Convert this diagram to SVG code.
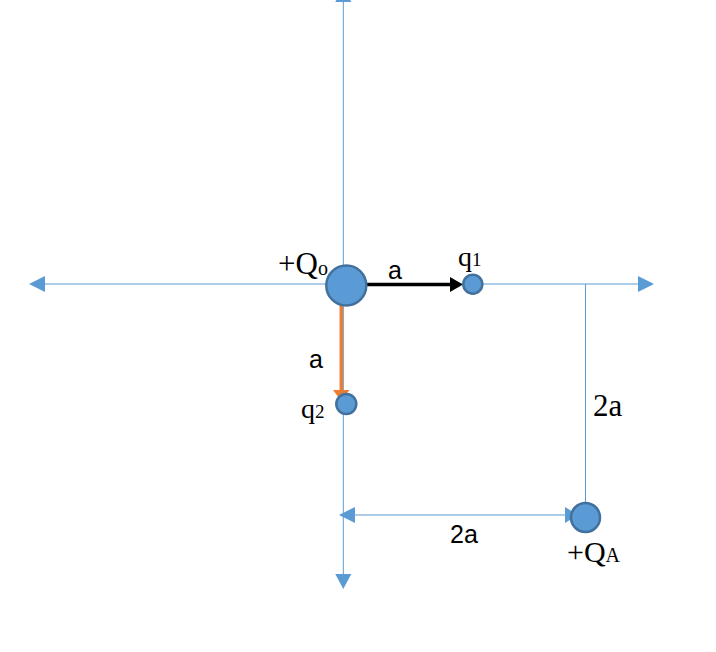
<svg xmlns="http://www.w3.org/2000/svg" width="716" height="652" viewBox="0 0 716 652">
<style>
.ax{stroke:#5b9bd5;stroke-width:1;fill:none}
.ah{fill:#5b9bd5;stroke:none}
.chg{fill:#5b9bd5;stroke:#41719c;stroke-width:2.5}
.serif{font-family:"Liberation Serif","Times New Roman",serif;fill:#000}
.sans{font-family:"Liberation Sans",Arial,sans-serif;fill:#000}
</style>
<rect width="716" height="652" fill="#fff"/>
<g id="connectors">
<line class="ax" x1="45" y1="284" x2="638" y2="284"/>
<polygon class="ah" points="29,284 45,276 45,292"/>
<polygon class="ah" points="654,284 638,276 638,292"/>
<line class="ax" x1="343.3" y1="2" x2="343.3" y2="574"/>
<polygon class="ah" points="343.3,-13 335.3,2 351.3,2"/>
<polygon class="ah" points="343.3,589 335.3,574 351.3,574"/>
<line class="ax" x1="585.5" y1="284" x2="585.5" y2="503"/>
<line class="ax" x1="355" y1="515" x2="565" y2="515"/>
<polygon class="ah" points="339,515 355,507 355,523"/>
<polygon class="ah" points="578,515 565,507 565,523"/>
<line x1="366" y1="284.5" x2="451" y2="284.5" stroke="#000" stroke-width="3.5"/>
<polygon points="463,284.5 450,277 450,292" fill="#000"/>
<line x1="341.3" y1="305" x2="341.3" y2="391" stroke="#ed7d31" stroke-width="3.5"/>
<polygon points="341.3,401 333,390 349.5,390" fill="#ed7d31"/>
<text class="sans" x="388" y="279" font-size="25">a</text>
<text class="sans" x="309" y="368" font-size="25">a</text>
<text class="sans" x="450" y="543" font-size="25">2a</text>
<text class="serif" x="593" y="416" font-size="31">2a</text>
</g>
<g id="Q0">
<circle class="chg" cx="346.3" cy="285.5" r="20"/>
<text class="serif" x="278" y="274" font-size="31">+Q<tspan font-size="20" dy="1">o</tspan></text>
</g>
<g id="q1">
<circle class="chg" cx="472.8" cy="284.2" r="9.5"/>
<text class="serif" x="458" y="266" font-size="28">q<tspan font-size="19">1</tspan></text>
</g>
<g id="q2">
<circle class="chg" cx="346.3" cy="404" r="10"/>
<text class="serif" x="301" y="418" font-size="28">q<tspan font-size="19">2</tspan></text>
</g>
<g id="QA">
<circle class="chg" cx="585.5" cy="517.5" r="14.5"/>
<text class="serif" x="567" y="562" font-size="30">+Q<tspan font-size="20">A</tspan></text>
</g>
</svg>
